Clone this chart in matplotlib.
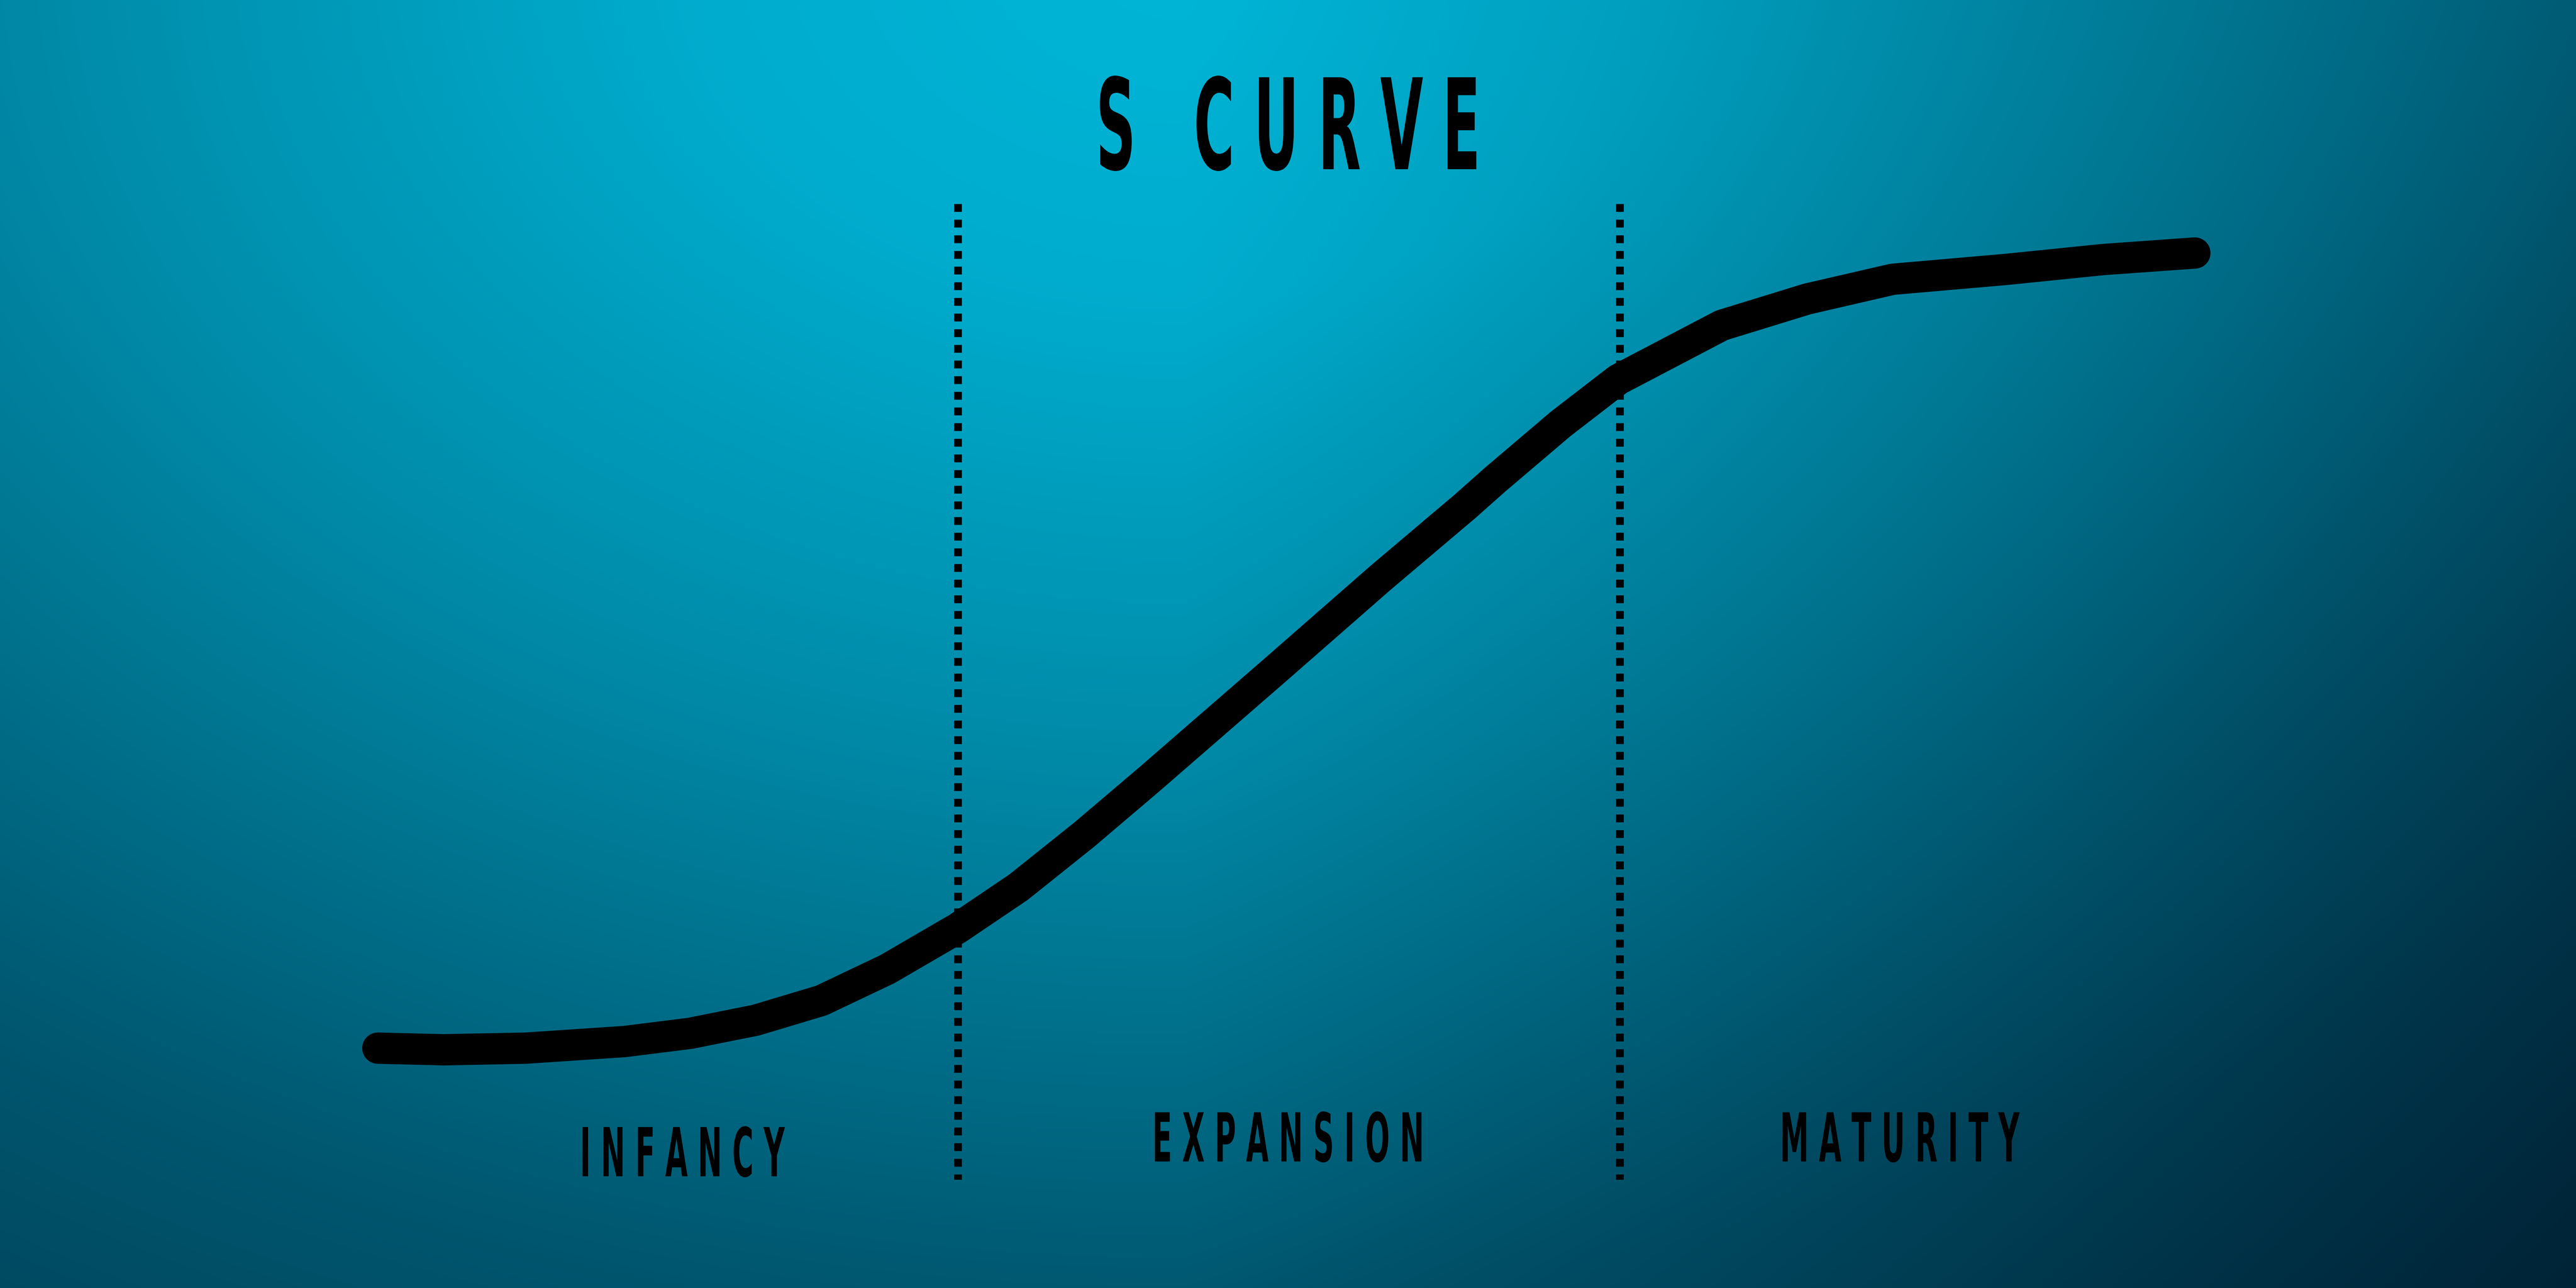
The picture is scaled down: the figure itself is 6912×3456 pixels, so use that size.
import numpy as np
import matplotlib
matplotlib.use("Agg")
import matplotlib.pyplot as plt
import matplotlib.patheffects as pe
from matplotlib.transforms import Affine2D

# canvas units: 1568 x 784 (scaled 1:4.408 to the output pixels)
W, H = 1568, 784

title = "S CURVE"
stages = ["INFANCY", "EXPANSION", "MATURITY"]
stage_label_x = [414, 784, 1155]
stage_label_y = [716, 707, 707]
stage_bounds = [583, 986]
bound_top, bound_bottom = 124, 718

# hand-drawn S curve
curve_x = [230, 270, 320, 380, 420, 460, 500, 540, 583, 620, 660, 700, 776,
           840, 892, 910, 950, 985, 1048, 1100, 1152, 1221, 1280, 1336]
curve_y = [638, 639, 638, 634, 629, 621, 609, 590, 565, 540, 508, 474, 408,
           352, 308, 292, 258, 231, 198, 182, 170, 164, 158, 154]


class Squeeze(pe.AbstractPathEffect):
    """Narrow the glyphs horizontally around their own centre."""

    def __init__(self, sx):
        super().__init__()
        self.sx = sx

    def draw_path(self, renderer, gc, tpath, affine, rgbFace=None):
        ext = tpath.get_extents(affine)
        cx = 0.5 * (ext.x0 + ext.x1)
        aff = affine + Affine2D().translate(-cx, 0).scale(self.sx, 1).translate(cx, 0)
        renderer.draw_path(gc, tpath, aff, rgbFace)


def spaced(s):
    # letter-spaced version of a label, word gaps get three spaces
    return "   ".join(" ".join(w) for w in s.split(" "))


def background():
    yy, xx = np.mgrid[0:H, 0:W].astype(float)
    t = np.sqrt(((xx - 720) / 1000) ** 2 + ((yy + 30) / 700) ** 2)
    g = np.interp(t, [0, 0.3, 0.614, 0.72, 1.163, 1.367, 1.6],
                  [182, 172, 146, 136, 88, 74, 62])
    xr = np.clip((xx - 720) / 848, 0, None)
    g = g * (1 - 0.25 * xr - 0.25 * xr * yy / H)
    b = g * 1.1 + 16
    img = np.dstack([np.zeros_like(g), g, b]) / 255.0
    return np.clip(img, 0, 1)


fig = plt.figure(figsize=(16, 8), dpi=432)
ax = fig.add_axes([0, 0, 1, 1])
ax.imshow(background(), extent=(0, W, H, 0), aspect="auto", zorder=0,
          interpolation="bilinear")
ax.set_xlim(0, W)
ax.set_ylim(H, 0)
ax.axis("off")

for bx in stage_bounds:
    ax.plot([bx, bx], [bound_top, bound_bottom], color="black", lw=3.5,
            linestyle=(0, (1, 1)), dash_capstyle="butt", zorder=2)

ax.plot(curve_x, curve_y, color="black", lw=14, solid_capstyle="round",
        solid_joinstyle="round", zorder=3)

font = ["DejaVu Sans"]
ax.text(784, 103, spaced(title), ha="center", va="baseline", fontsize=56.4,
        fontweight="bold", family=font, color="black",
        path_effects=[Squeeze(0.44)], zorder=4)

for name, lx, ly in zip(stages, stage_label_x, stage_label_y):
    ax.text(lx, ly, spaced(name), ha="center", va="baseline", fontsize=30.2,
            fontweight="bold", family=font, color="black",
            path_effects=[Squeeze(0.43)], zorder=4)

fig.savefig("out.png", dpi=432)
